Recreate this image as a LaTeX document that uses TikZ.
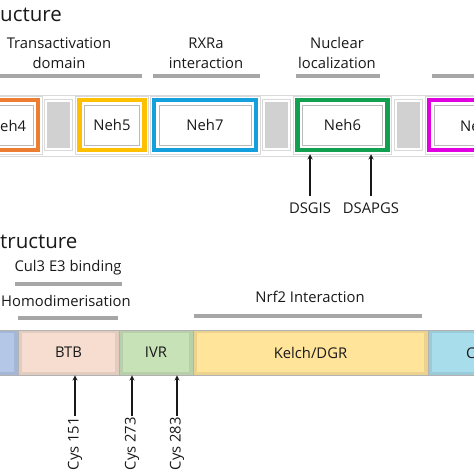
\documentclass[tikz,border=0pt]{standalone}
\usepackage{fontspec}
\setmainfont{Open Sans}
\usepackage{tikz}
\usetikzlibrary{positioning}

\definecolor{nehorange}{HTML}{ED7D31}
\definecolor{nehyellow}{HTML}{FFC000}
\definecolor{nehblue}{HTML}{14A0DC}
\definecolor{nehgreen}{HTML}{10A050}
\definecolor{nehmagenta}{HTML}{E000E0}
\definecolor{bargray}{HTML}{A6A6A6}
\definecolor{ntrblue}{HTML}{B4C7E7}
\definecolor{btbpeach}{HTML}{F6DDD0}
\definecolor{ivrgreen}{HTML}{C8E2B8}
\definecolor{kelchyellow}{HTML}{FFE49A}
\definecolor{ctrcyan}{HTML}{A8DDEB}

\tikzstyle{txt} = [font=\fontsize{14.8}{20}\selectfont, text=black!90, inner sep=1pt, align=center]
\tikzstyle{heading} = [font=\fontsize{20.5}{26}\selectfont, text=black!90, inner sep=0pt]
\tikzstyle{nehbox} = [rectangle, minimum height=50pt, line width=4.5pt, fill=white, inner sep=0pt, preaction={draw=gray!30, line width=9pt}, preaction={draw=white, line width=7pt}, path picture={\draw[gray!55, line width=0.8pt] ([shift={(5pt,-5pt)}]path picture bounding box.north west) rectangle ([shift={(-5pt,5pt)}]path picture bounding box.south east);}]
\tikzstyle{spacer} = [rectangle, minimum width=25pt, minimum height=48pt, fill=gray!36, inner sep=0pt, draw=white, line width=2pt, preaction={draw=gray!30, line width=4pt}]
\tikzstyle{regionbar} = [line width=4pt, bargray]
\tikzstyle{arrow} = [line width=1.3pt, ->, >=stealth, black!90]
\tikzset{domainseg/.style={rectangle, minimum height=45pt, inner sep=0pt, draw=gray!60, line width=0.6pt, fill=#1!92!black, path picture={\fill[#1] ([shift={(4pt,-3pt)}]path picture bounding box.north west) rectangle ([shift={(-4pt,3pt)}]path picture bounding box.south east);}}}

\begin{document}
\begin{tikzpicture}[x=1pt, y=-1pt]
    \useasboundingbox (0,0) rectangle (474,474);
    \clip (0,0) rectangle (474,474);

    % Nrf2 part
    \node[heading, anchor=base west] (nrftitle) at (0,21.5) {ucture};

    \node[txt] (transact) at (59,53)  {Transactivation\\domain};
    \node[txt] (rxra)     at (206,53) {RXRa\\interaction};
    \node[txt] (nuclear)  at (337,53) {Nuclear\\localization};

    \draw[regionbar] (0,76)   -- (142,76);
    \draw[regionbar] (153,76) -- (260,76);
    \draw[regionbar] (296,76) -- (380,76);
    \draw[regionbar] (432,76) -- (480,76);

    \draw[gray!30, fill=white] (-5,95) rectangle (480,156);
    \node[nehbox, draw=nehorange, minimum width=65pt]                      (neh4)    at (5.5,125) {};
    \node[txt, anchor=west]                                                (neh4text) at (-1,126) {eh4};
    \node[spacer, right=5pt of neh4]                                       (gap1)    {};
    \node[nehbox, draw=nehyellow, minimum width=65pt, txt, right=5pt of gap1]  (neh5) {Neh5};
    \node[nehbox, draw=nehblue, minimum width=102pt, txt, right=5pt of neh5]   (neh7) {Neh7};
    \node[spacer, right=5pt of neh7]                                       (gap2)    {};
    \node[nehbox, draw=nehgreen, minimum width=90pt, txt, right=5pt of gap2]   (neh6) {Neh6};
    \node[spacer, right=5pt of neh6]                                       (gap3)    {};
    \node[nehbox, draw=nehmagenta, minimum width=65pt, right=5pt of gap3]  (nehnext) {};
    \node[txt, anchor=west]                                                (nehnexttext) at (459,126) {Ne};

    \node[txt] (dsgis)  at (310,208) {DSGIS};
    \node[txt] (dsapgs) at (371,208) {DSAPGS};

    \draw[arrow, shorten <=5pt, shorten >=2pt] (dsgis.north)  -- (dsgis.north |- neh6.south);
    \draw[arrow, shorten <=5pt, shorten >=2pt] (dsapgs.north) -- (dsapgs.north |- neh6.south);

    % Keap1 part
    \node[heading, anchor=base west] (keaptitle) at (0,248.5) {tructure};

    \node[txt] (cul3)    at (68,268)  {Cul3 E3 binding};
    \draw[regionbar] (15,284) -- (122,284);
    \node[txt, anchor=west] (homodim) at (0,301)  {Homodimerisation};
    \draw[regionbar] (18,318) -- (118,318);
    \node[txt] (nrfint)  at (310,297) {Nrf2 Interaction};
    \draw[regionbar] (194,316) -- (422,316);

    \node[domainseg=ntrblue, minimum width=68pt]            (ntr)   at (-16,352.5)  {};
    \node[domainseg=btbpeach, txt, minimum width=101pt]     (btb)   at (68.5,352.5) {BTB};
    \node[domainseg=ivrgreen, txt, minimum width=74pt]      (ivr)   at (156,352.5)  {IVR};
    \node[domainseg=kelchyellow, txt, minimum width=235pt]  (kelch) at (310.5,352.5) {Kelch/DGR};
    \node[domainseg=ctrcyan, minimum width=72pt]            (ctr)   at (464,352.5)  {};
    \node[txt, anchor=west]                                 (ctrtext) at (465,353)  {C};

    \node[txt, rotate=90, anchor=east] (cys151) at (75,416)  {Cys 151};
    \node[txt, rotate=90, anchor=east] (cys273) at (132,416) {Cys 273};
    \node[txt, rotate=90, anchor=east] (cys283) at (177,416) {Cys 283};

    \draw[arrow] (cys151.east) -- (cys151.east |- btb.south);
    \draw[arrow] (cys273.east) -- (cys273.east |- ivr.south);
    \draw[arrow] (cys283.east) -- (cys283.east |- ivr.south);
\end{tikzpicture}
\end{document}
